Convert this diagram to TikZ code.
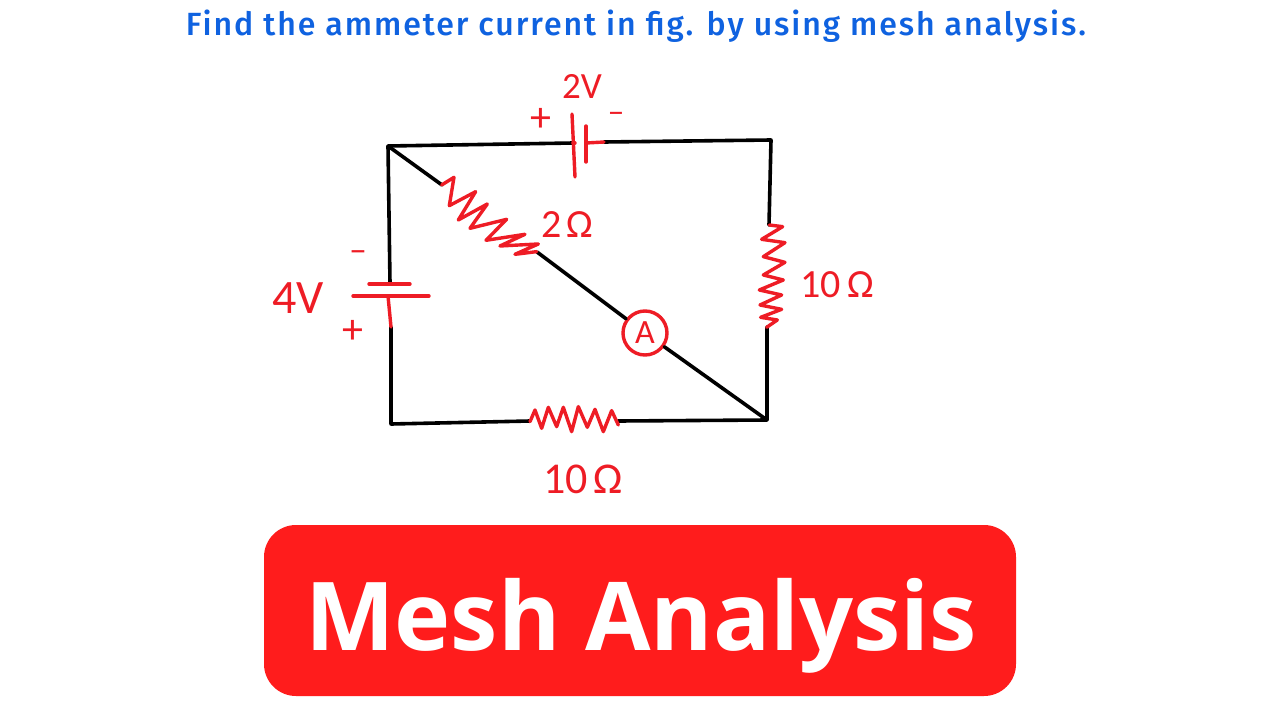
\documentclass[tikz,border=0pt]{standalone}
\usepackage{fontspec}
\setmainfont{Open Sans}
\newfontfamily\titlefont{Fira Sans}[UprightFont=* Medium]
\newfontfamily\handfont{Carlito}
\definecolor{wirered}{HTML}{EE1C25}
\definecolor{bannerred}{HTML}{FF1C1C}
\definecolor{titleblue}{HTML}{0F62E0}
\tikzset{
  wire/.style={draw=black,line width=3.6pt,line cap=round,line join=round},
  redline/.style={draw=wirered,line width=3.4pt,line cap=round,line join=round},
  hand/.style={text=wirered,inner sep=0pt,font=\handfont\fontsize{40}{40}\selectfont},
  sign/.style={text=wirered,inner sep=0pt,font=\handfont\fontsize{42}{42}\selectfont},
  zoomA/.style={shift={(250,60)},x=0.3333pt,y=-0.3333pt},
  zoomB/.style={shift={(500,200)},x=0.3333pt,y=-0.3333pt}
}
\begin{document}
\begin{tikzpicture}[x=1pt,y=-1pt]
\useasboundingbox (0,0) rectangle (1280,720);
\fill[white] (0,0) rectangle (1280,720);
% title
\node[inner sep=0pt,text=titleblue] (title) at (636,26)
  {\resizebox{900pt}{!}{\titlefont\addfontfeatures{LetterSpace=6}\fontsize{28}{28}\selectfont Find the ammeter current in fig. by using mesh analysis.}};
% banner
\node[fill=bannerred,rounded corners=32pt,minimum width=752pt,minimum height=171pt,inner sep=0pt] (banner) at (640,610.5) {};
\node[inner sep=0pt,text=white,font=\bfseries\fontsize{95}{95}\selectfont,anchor=base] (bannertext) at (641,650) {Mesh Analysis};
% junctions
\coordinate (TL) at (388,146);
\coordinate (TR) at (771,140);
\coordinate (BR) at (767,420);
\coordinate (BL) at (391,424);
\coordinate (batTa) at (573,143);
\coordinate (batTb) at (604,142);
\coordinate (batLa) at (390,283);
\coordinate (batLb) at (391,327);
\coordinate (rDa) at (442,185);
\coordinate (rDb) at (537,252);
\coordinate (rRa) at (769,225);
\coordinate (rRb) at (767,327);
\coordinate (rBa) at (530,421);
\coordinate (rBb) at (618,421);
% ammeter
\node[circle,draw=wirered,line width=3.4pt,minimum size=44pt,inner sep=0pt,text=wirered,
  font=\handfont\fontsize{34}{34}\selectfont] (amm) at (645,333) {A};
% wires
\draw[wire] (batTa) -- (TL) -- (batLa);
\draw[wire] (batLb) -- (BL) -- (rBa);
\draw[wire] (rBb) -- (BR) -- (rRb);
\draw[wire] (rRa) -- (TR) -- (batTb);
\draw[wire] (TL) -- (rDa);
\draw[wire] (rDb) -- (amm);
\draw[wire] (amm) -- (BR);
% top battery
\draw[redline] (572,114) -- (575,177);
\draw[redline] (586,126) -- (586,162);
\draw[redline] (586,143) -- (batTb);
\draw[redline] (batTa) -- (575,143);
% left battery
\draw[redline] (369,284) -- (410,284);
\draw[redline] (353,296) -- (429,296);
\draw[redline] (388,296) -- (batLb);
% resistors
\begin{scope}[zoomA]
\draw[redline] (575,375) -- (612,352) -- (598,437) -- (677,395) -- (625,480) -- (712,432) -- (660,505) -- (770,478) -- (708,541) -- (825,523) -- (750,558) -- (865,552) -- (795,583) -- (860,575);
\end{scope}
\begin{scope}[zoomB]
\draw[redline] (808,75) -- (848,80) -- (785,118) -- (855,128) -- (790,170) -- (855,187) -- (790,225) -- (850,240) -- (778,270) -- (845,285) -- (780,315) -- (845,328) -- (782,352) -- (832,360) -- (800,382);
\draw[redline] (90,665) -- (105,630) -- (125,685) -- (145,622) -- (170,680) -- (190,622) -- (215,695) -- (235,620) -- (262,682) -- (285,628) -- (310,695) -- (335,632) -- (355,675);
\end{scope}
% labels
\node[hand,font=\handfont\fontsize{37}{37}\selectfont] (l2v) at (582,86) {2V};
\node[sign] (p2v) at (541,120) {+};
\node[sign,font=\handfont\fontsize{32}{32}\selectfont] (m2v) at (616,118) {−};
\node[hand,font=\handfont\fontsize{48}{48}\selectfont] (l4v) at (298,298) {4V};
\node[sign,font=\handfont\fontsize{34}{34}\selectfont] (m4v) at (358,257) {−};
\node[sign] (p4v) at (353,332) {+};
\node[hand] (l2o) at (567,225) {2\hspace{5pt}Ω};
\node[hand] (l10r) at (837,285) {10\hspace{6pt}Ω};
\node[hand,font=\handfont\fontsize{44}{44}\selectfont] (l10b) at (583,479) {10\hspace{6pt}Ω};
\end{tikzpicture}
\end{document}
